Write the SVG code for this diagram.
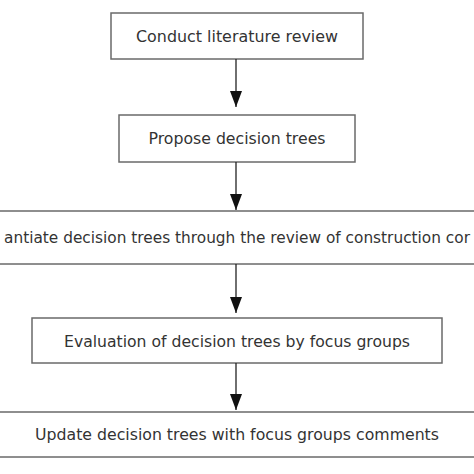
<svg xmlns="http://www.w3.org/2000/svg" width="474" height="474" viewBox="0 0 474 474">
<style>
.box{fill:#fff;stroke:#6a6a6a;stroke-width:1.5}
.lbl{font-family:"DejaVu Sans","Liberation Sans",sans-serif;font-size:16.5px;fill:#333;text-anchor:middle}
.conn{stroke:#222;stroke-width:1.3;fill:none}
</style>
<defs>
<marker id="ah" markerUnits="userSpaceOnUse" markerWidth="16" markerHeight="12" refX="16" refY="6" orient="auto" viewBox="0 0 16 12">
<path d="M0,0 L16,6 L0,12 Z" fill="#111"/>
</marker>
</defs>
<rect width="474" height="474" fill="#fff"/>
<g id="n1"><rect class="box" x="111" y="13" width="252" height="46"/><text class="lbl" x="237" y="42" textLength="202" lengthAdjust="spacingAndGlyphs">Conduct literature review</text></g>
<g id="n2"><rect class="box" x="119" y="115" width="236" height="47"/><text class="lbl" x="237" y="144" textLength="177" lengthAdjust="spacingAndGlyphs">Propose decision trees</text></g>
<g id="n3"><rect class="box" x="-10" y="211" width="494" height="53"/><text class="lbl" x="237" y="243" textLength="466" lengthAdjust="spacingAndGlyphs">antiate decision trees through the review of construction cor</text></g>
<g id="n4"><rect class="box" x="32" y="318" width="410" height="45"/><text class="lbl" x="237" y="347" textLength="346" lengthAdjust="spacingAndGlyphs">Evaluation of decision trees by focus groups</text></g>
<g id="n5"><rect class="box" x="-10" y="412" width="494" height="45"/><text class="lbl" x="237" y="440" textLength="404" lengthAdjust="spacingAndGlyphs">Update decision trees with focus groups comments</text></g>
<g id="connectors">
<line class="conn" x1="236" y1="59" x2="236" y2="107" marker-end="url(#ah)"/>
<line class="conn" x1="236" y1="162" x2="236" y2="210" marker-end="url(#ah)"/>
<line class="conn" x1="236" y1="264" x2="236" y2="313" marker-end="url(#ah)"/>
<line class="conn" x1="236" y1="363" x2="236" y2="410" marker-end="url(#ah)"/>
</g>
</svg>
